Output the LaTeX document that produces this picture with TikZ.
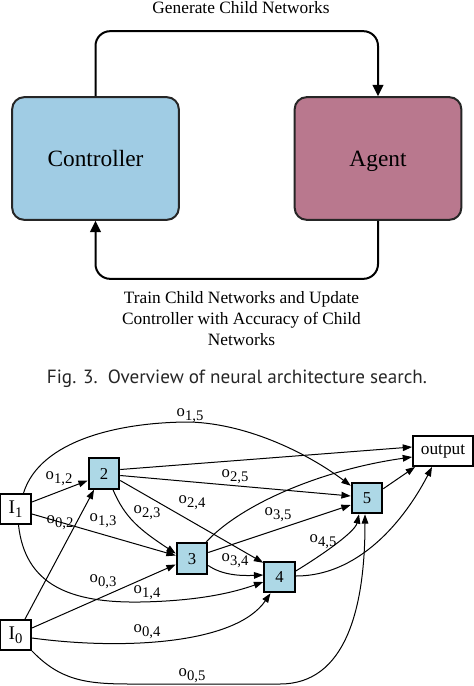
\documentclass[tikz,border=0pt]{standalone}
\usepackage{fontspec}
\setmainfont{Liberation Serif}
\newfontfamily\capfont{PT Sans}
\usetikzlibrary{arrows.meta,calc}
\definecolor{ctrlblue}{RGB}{160,204,228}
\definecolor{agentpink}{RGB}{185,120,142}
\definecolor{nodeblue}{RGB}{173,216,230}
\newcommand\olab[1]{o\raisebox{-3pt}{\fontsize{11}{11}\selectfont #1}}
\newcommand\ilab[1]{{\fontsize{14.5}{15}\selectfont I}\raisebox{-3pt}{\fontsize{11}{11}\selectfont #1}}
\begin{document}
\begin{tikzpicture}[x=0.75pt,y=-0.75pt,
  bigbox/.style={draw=black!85,line width=1.5pt,rounded corners=9pt,minimum width=125pt,minimum height=92pt,inner sep=0pt,text height=12.5pt,text depth=0pt,font=\fontsize{17.5}{20}\selectfont},
  flow/.style={line width=1.5pt,-{Triangle[length=8.5pt,width=8pt]}},
  gnode/.style={draw,line width=1.4pt,fill=nodeblue,minimum size=23pt,inner sep=0pt,text height=8.5pt,text depth=0pt,font=\fontsize{12.5}{14}\selectfont},
  iobox/.style={draw,line width=1.4pt,fill=white,minimum height=22.5pt,inner sep=0pt,font=\fontsize{13}{15}\selectfont},
  edge/.style={line width=0.75pt,-{Triangle[length=7pt,width=5pt]}},
  lab/.style={inner sep=0pt,font=\fontsize{12.5}{14}\selectfont}]
\useasboundingbox (0,0) rectangle (474,686);
% ---- top figure ----
\node[bigbox,fill=ctrlblue] (ctrl) at (95.5,158.5) {Controller};
\node[bigbox,fill=agentpink] (agent) at (378,158.5) {Agent};
\draw[flow,rounded corners=11pt] (ctrl.north) -- ++(0,-65) -| (agent.north);
\draw[flow,rounded corners=11pt] (agent.south) -- ++(0,58) -| (ctrl.south);
\node[anchor=base,inner sep=0pt,font=\fontsize{13}{15.75}\selectfont] (gen) at (241,13) {Generate Child Networks};
\node[anchor=base,inner sep=0pt,align=center,font=\fontsize{13}{15.75}\selectfont] (train) at (241.5,345) {Train Child Networks and Update\\Controller with Accuracy of Child\\Networks};
\node[anchor=base,inner sep=0pt,text=black!85] (cap) at (237,383) {\resizebox{285pt}{!}{\capfont Fig. 3.\ \ Overview of neural architecture search.}};
% ---- bottom graph ----
\node[iobox,minimum width=23.25pt] (I1) at (15.5,509) {\ilab{1}};
\node[iobox,minimum width=23.25pt] (I0) at (15.5,635) {\ilab{0}};
\node[gnode] (n2) at (104,473.5) {2};
\node[gnode] (n3) at (192,558.5) {3};
\node[gnode] (n4) at (279.5,577) {4};
\node[gnode] (n5) at (367,498) {5};
\node[iobox,minimum width=45pt] (out) at (443,451) {output};
% edges
\draw[edge] ($(I1.east)+(0,-7)$) -- ($(n2.west)+(0,7)$);
\draw[edge] ($(I0.north)+(9.5,0)$) -- ($(n2.south)+(-10,0)$);
\draw[edge] ($(I1.east)+(0,5)$) -- ($(n3.west)+(0,-3)$);
\draw[edge] ($(I0.east)+(0,-7)$) -- ($(n3.west)+(0,6)$);
\draw[edge] ($(I1.south)+(3,0)$) .. controls (25,585) and (70,603) .. (140,602) .. controls (200,601) and (235,592) .. ($(n4.west)+(0,5)$);
\draw[edge] ($(I0.east)+(0,3)$) .. controls (120,650) and (235,645) .. ($(n4.south)+(-9,0)$);
\draw[edge] (I0.south east) .. controls (60,680) and (85,684) .. (130,684) -- (280,684) .. controls (345,684) and (365,610) .. ($(n5.south)+(-2,0)$);
\draw[edge] ($(I1.north)+(8,0)$) .. controls (40,440) and (120,422) .. (190,422) .. controls (250,424) and (310,455) .. ($(n5.north west)+(0,4)$);
\draw[edge] ($(n2.east)+(0,-4)$) -- ($(out.west)+(0,-4)$);
\draw[edge] ($(n2.east)+(0,2)$) -- ($(n5.west)+(0,-2)$);
\draw[edge] ($(n2.south)+(9,0)$) .. controls (125,518) and (140,530) .. ($(n3.west)+(0,-5)$);
\draw[edge] ($(n2.east)+(0,7)$) -- ($(n4.north west)+(0,2)$);
\draw[edge] ($(n3.north)+(14,0)$) .. controls (240,505) and (320,470) .. ($(out.west)+(0,6)$);
\draw[edge] ($(n3.east)+(0,-6)$) -- ($(n5.west)+(0,7)$);
\draw[edge] ($(n3.east)+(0,7)$) .. controls (222,575) and (240,576) .. ($(n4.west)+(0,-2)$);
\draw[edge] ($(n4.east)+(0,-6)$) .. controls (322,555) and (355,532) .. ($(n5.south)+(-8,0)$);
\draw[edge] ($(n4.east)+(0,-1)$) .. controls (365,576) and (410,510) .. ($(out.south)+(-11,0)$);
\draw[edge] ($(n5.north east)+(0,7)$) -- ($(out.south west)+(3,0)$);
% labels
\node[lab] (l15) at (190,416) {\olab{1,5}};
\node[lab] (l12) at (59,479) {\olab{1,2}};
\node[lab] (l02) at (60,523) {\olab{0,2}};
\node[lab] (l13) at (103,521) {\olab{1,3}};
\node[lab] (l23) at (147,513) {\olab{2,3}};
\node[lab] (l24) at (192,503) {\olab{2,4}};
\node[lab] (l25) at (235,477) {\olab{2,5}};
\node[lab] (l35) at (278,515) {\olab{3,5}};
\node[lab] (l34) at (235,561) {\olab{3,4}};
\node[lab] (l45) at (323,542) {\olab{4,5}};
\node[lab] (l03) at (103,582) {\olab{0,3}};
\node[lab] (l14) at (147,593) {\olab{1,4}};
\node[lab] (l04) at (147,632) {\olab{0,4}};
\node[lab] (l05) at (192,676) {\olab{0,5}};
\end{tikzpicture}
\end{document}
